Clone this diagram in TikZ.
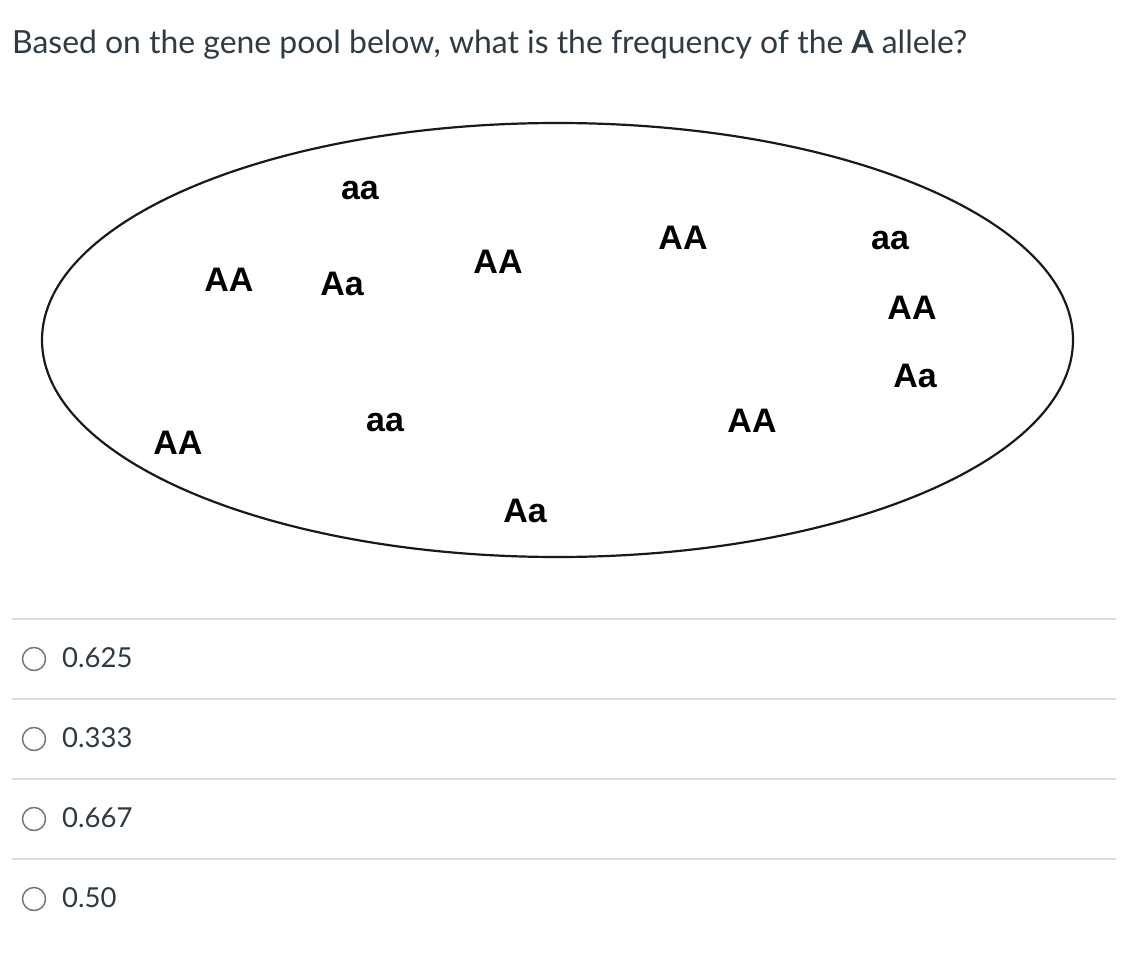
\documentclass[tikz,border=0pt]{standalone}
\usepackage{fontspec}
\usetikzlibrary{shapes.geometric}
\setmainfont{Lato}
\newfontfamily\arialb{Liberation Sans}[BoldFont=*-Bold]
\definecolor{txt}{HTML}{2D3B45}
\definecolor{rule}{HTML}{DCDCDC}
\definecolor{radio}{HTML}{777777}
\begin{document}
\begin{tikzpicture}[x=1pt,y=-1pt,
  geno/.style={anchor=base,inner sep=0pt,font=\arialb\bfseries\fontsize{34}{38}\selectfont},
  opt/.style={anchor=base west,inner sep=0pt,text=txt,font=\fontsize{27.5}{32}\selectfont},
  radiobtn/.style={circle,draw=radio,line width=1.5pt,minimum size=23pt,inner sep=0pt},
  divider/.style={draw=rule,line width=1.6pt}]
\useasboundingbox (0,0) rectangle (1140,968);
\node[anchor=base west,inner sep=0pt,text=txt,font=\fontsize{31.9}{36}\selectfont] (title) at (12,54)
  {Based on the gene pool below, what is the frequency of the \textbf{A} allele?};
\node[draw=black!90,line width=2.2pt,ellipse,minimum width=1031pt,minimum height=434pt,inner sep=0pt] (pool) at (557.5,340) {};
\node[geno] (g1) at (360,200) {aa};
\node[geno] (g2) at (683,250) {AA};
\node[geno] (g3) at (890,250) {aa};
\node[geno] (g4) at (498,274) {AA};
\node[geno] (g5) at (229,291) {AA};
\node[geno] (g6) at (342,295) {Aa};
\node[geno] (g7) at (912,319) {AA};
\node[geno] (g8) at (915,387) {Aa};
\node[geno] (g9) at (385,431) {aa};
\node[geno] (g10) at (752,432) {AA};
\node[geno] (g11) at (178,454) {AA};
\node[geno] (g12) at (525,522) {Aa};
\foreach \i/\y/\v in {1/619/0.625,2/699/0.333,3/779/0.667,4/859/0.50}{
  \coordinate (l\i a) at (12,\y);
  \coordinate (l\i b) at (1116,\y);
  \path[divider] (l\i a) -- (l\i b);
  \node[radiobtn] (r\i) at (34,\y+40) {};
  \node[opt] (o\i) at (62,\y+48) {\v};
}
\end{tikzpicture}
\end{document}
